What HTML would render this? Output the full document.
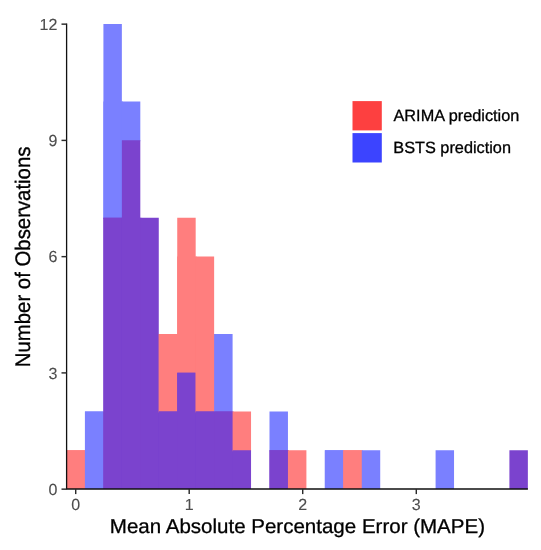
<!DOCTYPE html>
<html><head><meta charset="utf-8"><title>MAPE histogram</title>
<style>
html,body{margin:0;padding:0;background:#fff;overflow:hidden;}
svg{display:block;filter:blur(0.55px);}
text{font-family:"Liberation Sans",Arial,sans-serif;text-rendering:geometricPrecision;}
.tick{font-size:16px;fill:#4d4d4d;stroke:#4d4d4d;stroke-width:0.12px;}
.title{font-size:20.1px;fill:#000;stroke:#000;stroke-width:0.3px;}
.leg{font-size:16.3px;fill:#000;stroke:#000;stroke-width:0.3px;}
</style></head><body>
<svg width="541" height="550" viewBox="0 0 541 550">
<rect width="541" height="550" fill="#fff"/>
<rect x="66.50" y="450.25" width="18.45" height="38.75" fill="#ff7e7e"/>
<rect x="66.50" y="450.25" width="19.45" height="38.75" fill="#ff7e7e"/>
<rect x="84.95" y="411.50" width="18.45" height="77.50" fill="#7a80ff"/>
<rect x="84.95" y="411.50" width="19.45" height="77.50" fill="#7a80ff"/>
<rect x="103.41" y="24.00" width="18.45" height="194.75" fill="#7a80ff"/>
<rect x="103.41" y="101.50" width="19.45" height="117.25" fill="#7a80ff"/>
<rect x="103.41" y="217.75" width="18.45" height="271.25" fill="#7b43ce"/>
<rect x="103.41" y="217.75" width="19.45" height="271.25" fill="#7b43ce"/>
<rect x="121.86" y="101.50" width="18.45" height="39.75" fill="#7a80ff"/>
<rect x="121.86" y="140.25" width="18.45" height="348.75" fill="#7b43ce"/>
<rect x="121.86" y="217.75" width="19.45" height="271.25" fill="#7b43ce"/>
<rect x="140.32" y="217.75" width="18.45" height="271.25" fill="#7b43ce"/>
<rect x="140.32" y="334.00" width="19.45" height="155.00" fill="#7b43ce"/>
<rect x="158.77" y="334.00" width="18.45" height="78.50" fill="#ff7e7e"/>
<rect x="158.77" y="334.00" width="19.45" height="78.50" fill="#ff7e7e"/>
<rect x="158.77" y="411.50" width="18.45" height="77.50" fill="#7b43ce"/>
<rect x="158.77" y="411.50" width="19.45" height="77.50" fill="#7b43ce"/>
<rect x="177.23" y="217.75" width="18.45" height="156.00" fill="#ff7e7e"/>
<rect x="177.23" y="256.50" width="19.45" height="117.25" fill="#ff7e7e"/>
<rect x="177.23" y="372.75" width="18.45" height="116.25" fill="#7b43ce"/>
<rect x="177.23" y="372.75" width="19.45" height="116.25" fill="#7b43ce"/>
<rect x="195.68" y="256.50" width="18.45" height="156.00" fill="#ff7e7e"/>
<rect x="195.68" y="334.00" width="19.45" height="78.50" fill="#ff7e7e"/>
<rect x="195.68" y="411.50" width="18.45" height="77.50" fill="#7b43ce"/>
<rect x="195.68" y="411.50" width="19.45" height="77.50" fill="#7b43ce"/>
<rect x="214.14" y="334.00" width="18.45" height="78.50" fill="#7a80ff"/>
<rect x="214.14" y="411.50" width="18.45" height="77.50" fill="#7b43ce"/>
<rect x="214.14" y="411.50" width="19.45" height="77.50" fill="#7b43ce"/>
<rect x="232.59" y="411.50" width="18.45" height="39.75" fill="#ff7e7e"/>
<rect x="232.59" y="450.25" width="18.45" height="38.75" fill="#7b43ce"/>
<rect x="269.50" y="411.50" width="18.45" height="39.75" fill="#7a80ff"/>
<rect x="269.50" y="450.25" width="18.45" height="38.75" fill="#7b43ce"/>
<rect x="269.50" y="450.25" width="19.45" height="38.75" fill="#7b43ce"/>
<rect x="287.95" y="450.25" width="18.45" height="38.75" fill="#ff7e7e"/>
<rect x="324.86" y="450.25" width="18.45" height="38.75" fill="#7a80ff"/>
<rect x="324.86" y="450.25" width="19.45" height="38.75" fill="#7a80ff"/>
<rect x="343.32" y="450.25" width="18.45" height="38.75" fill="#ff7e7e"/>
<rect x="343.32" y="450.25" width="19.45" height="38.75" fill="#ff7e7e"/>
<rect x="361.77" y="450.25" width="18.45" height="38.75" fill="#7a80ff"/>
<rect x="435.59" y="450.25" width="18.45" height="38.75" fill="#7a80ff"/>
<rect x="509.41" y="450.25" width="18.45" height="38.75" fill="#7b43ce"/>
<path d="M66.6 23.4 V489 M65.95 489 H527.9" stroke="#111" stroke-width="1.3" fill="none"/>
<path d="M75.7 489 V494.1" stroke="#2b2b2b" stroke-width="1.45"/>
<text class="tick" transform="translate(75.7 510.0) rotate(0)" text-anchor="middle">0</text>
<path d="M189.2 489 V494.1" stroke="#2b2b2b" stroke-width="1.45"/>
<text class="tick" transform="translate(189.2 510.0) rotate(0)" text-anchor="middle">1</text>
<path d="M302.7 489 V494.1" stroke="#2b2b2b" stroke-width="1.45"/>
<text class="tick" transform="translate(302.7 510.0) rotate(0)" text-anchor="middle">2</text>
<path d="M416.3 489 V494.1" stroke="#2b2b2b" stroke-width="1.45"/>
<text class="tick" transform="translate(416.3 510.0) rotate(0)" text-anchor="middle">3</text>
<path d="M61.5 489.15 H66.6" stroke="#2b2b2b" stroke-width="1.45"/>
<text class="tick" transform="translate(57.4 494.80) rotate(0)" text-anchor="end">0</text>
<path d="M61.5 372.90 H66.6" stroke="#2b2b2b" stroke-width="1.45"/>
<text class="tick" transform="translate(57.4 378.55) rotate(0)" text-anchor="end">3</text>
<path d="M61.5 256.65 H66.6" stroke="#2b2b2b" stroke-width="1.45"/>
<text class="tick" transform="translate(57.4 262.30) rotate(0)" text-anchor="end">6</text>
<path d="M61.5 140.40 H66.6" stroke="#2b2b2b" stroke-width="1.45"/>
<text class="tick" transform="translate(57.4 146.05) rotate(0)" text-anchor="end">9</text>
<path d="M61.5 24.15 H66.6" stroke="#2b2b2b" stroke-width="1.45"/>
<text class="tick" transform="translate(57.4 29.80) rotate(0)" text-anchor="end">12</text>
<text class="title" transform="translate(297.4 532.6) scale(1.021 1)" text-anchor="middle">Mean Absolute Percentage Error (MAPE)</text>
<text class="title" transform="translate(30.0 256.9) rotate(-90) scale(1.013 1.05)" text-anchor="middle">Number of Observations</text>
<rect x="352.5" y="101.1" width="29.3" height="29.3" fill="#fd4040"/>
<rect x="352.5" y="133.1" width="29.3" height="29.4" fill="#3c44ff"/>
<text class="leg" x="393.5" y="120.9">ARIMA prediction</text>
<text class="leg" x="393.3" y="153.0">BSTS prediction</text>
</svg></body></html>
